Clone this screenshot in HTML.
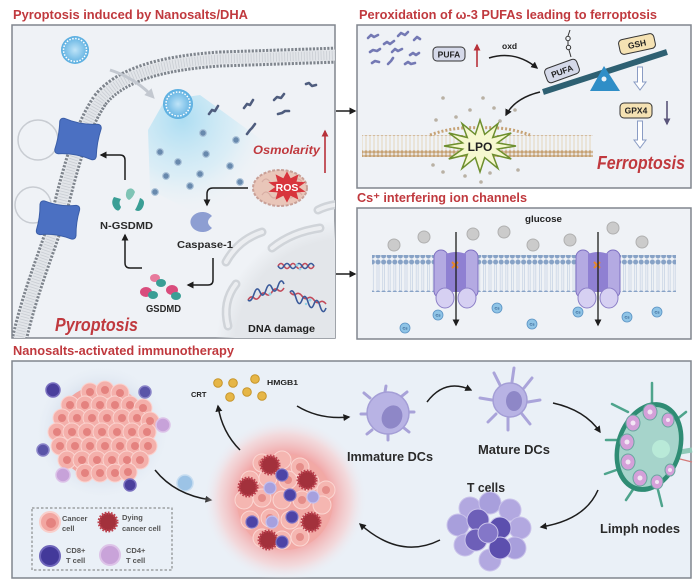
<!DOCTYPE html>
<html><head><meta charset="utf-8">
<style>
html,body{margin:0;padding:0;background:#fff}
svg{display:block}
text{font-family:"Liberation Sans",Arial,sans-serif}
</style></head><body>
<svg width="700" height="584" viewBox="0 0 700 584" xmlns="http://www.w3.org/2000/svg" font-family="Liberation Sans, Arial, sans-serif">
<defs>
  <marker id="a" viewBox="0 0 10 10" refX="8" refY="5" markerWidth="7" markerHeight="7" markerUnits="userSpaceOnUse" orient="auto"><path d="M0,0 L10,5 L0,10 z" fill="#1d1d1d"/></marker>
  <marker id="ar" viewBox="0 0 10 10" refX="8" refY="5" markerWidth="7" markerHeight="7" markerUnits="userSpaceOnUse" orient="auto"><path d="M0,0 L10,5 L0,10 z" fill="#b8323a"/></marker>
  <marker id="ag" viewBox="0 0 10 10" refX="6" refY="5" markerWidth="10" markerHeight="10" markerUnits="userSpaceOnUse" orient="auto"><path d="M0,0 L10,5 L0,10 z" fill="#c3c8d0"/></marker>
  <marker id="ap" viewBox="0 0 10 10" refX="8" refY="5" markerWidth="7" markerHeight="7" markerUnits="userSpaceOnUse" orient="auto"><path d="M0,0 L10,5 L0,10 z" fill="#5a557a"/></marker>
  <radialGradient id="cloud" cx="0.3" cy="0.2" r="0.8">
    <stop offset="0" stop-color="#a9dcf2" stop-opacity="0.95"/>
    <stop offset="0.6" stop-color="#cdeaf6" stop-opacity="0.6"/>
    <stop offset="1" stop-color="#eef3f7" stop-opacity="0"/>
  </radialGradient>
  <radialGradient id="nuc" cx="0.5" cy="0.5" r="0.5">
    <stop offset="0.85" stop-color="#e3e6ea"/>
    <stop offset="1" stop-color="#e3e6ea" stop-opacity="0"/>
  </radialGradient>
  <radialGradient id="glow" cx="0.5" cy="0.5" r="0.5">
    <stop offset="0.55" stop-color="#f1a3a3"/>
    <stop offset="0.8" stop-color="#f6cfd0" stop-opacity="0.7"/>
    <stop offset="1" stop-color="#eaf0f7" stop-opacity="0"/>
  </radialGradient>
  <radialGradient id="haze" cx="0.5" cy="0.5" r="0.5">
    <stop offset="0.6" stop-color="#d3dcea"/>
    <stop offset="1" stop-color="#eaf0f7" stop-opacity="0"/>
  </radialGradient>
  <radialGradient id="ves" cx="0.5" cy="0.5" r="0.5">
    <stop offset="0" stop-color="#bfe4f8"/>
    <stop offset="1" stop-color="#5aaee0"/>
  </radialGradient>
  <pattern id="tan" width="4" height="22" patternUnits="userSpaceOnUse">
    <line x1="2" y1="4" x2="2" y2="18" stroke="#e6d2b4" stroke-width="0.9"/>
    <circle cx="2" cy="2" r="1.8" fill="#c6a274"/>
    <circle cx="2" cy="20" r="1.8" fill="#c6a274"/>
  </pattern>
  <pattern id="blu" width="5.6" height="37" patternUnits="userSpaceOnUse">
    <line x1="1.8" y1="5" x2="1.8" y2="32" stroke="#c9d4e4" stroke-width="0.8"/>
    <line x1="3.8" y1="5" x2="3.8" y2="32" stroke="#c9d4e4" stroke-width="0.8"/>
    <circle cx="2.8" cy="3" r="2.5" fill="#87a2c6"/>
    <circle cx="2.8" cy="34" r="2.5" fill="#87a2c6"/>
  </pattern>
  <clipPath id="c1"><rect x="12" y="25" width="323" height="313"/></clipPath>
  <clipPath id="c2"><rect x="12" y="361" width="679" height="217"/></clipPath>
</defs>

<!-- ===== Titles ===== -->
<text x="13" y="19" font-size="12.5" font-weight="bold" fill="#c0393e" textLength="235" lengthAdjust="spacingAndGlyphs">Pyroptosis induced by Nanosalts/DHA</text>
<text x="359" y="19" font-size="12.5" font-weight="bold" fill="#c0393e" textLength="298" lengthAdjust="spacingAndGlyphs">Peroxidation of ω-3 PUFAs leading to ferroptosis</text>
<text x="357" y="202" font-size="12.5" font-weight="bold" fill="#c0393e" textLength="170" lengthAdjust="spacingAndGlyphs">Cs⁺ interfering ion channels</text>
<text x="13" y="355" font-size="12.5" font-weight="bold" fill="#c0393e" textLength="221" lengthAdjust="spacingAndGlyphs">Nanosalts-activated immunotherapy</text>

<!-- ===== Boxes ===== -->
<rect x="12" y="25" width="323" height="313" fill="#eff2f6" stroke="#80858d" stroke-width="1.5"/>
<rect x="357" y="25" width="334" height="163" fill="#eff2f6" stroke="#80858d" stroke-width="1.5"/>
<rect x="357" y="208" width="334" height="131" fill="#eff2f6" stroke="#80858d" stroke-width="1.5"/>
<rect x="12" y="361" width="679" height="217" fill="#eaf0f7" stroke="#80858d" stroke-width="1.5"/>

<!-- connecting arrows -->
<line x1="336" y1="111" x2="355" y2="111" stroke="#1d1d1d" stroke-width="1.5" marker-end="url(#a)"/>
<line x1="336" y1="274" x2="355" y2="274" stroke="#1d1d1d" stroke-width="1.5" marker-end="url(#a)"/>

<!-- ===== Top-left panel ===== -->
<g clip-path="url(#c1)">
  <circle cx="345" cy="350" r="130" fill="url(#nuc)"/>
  <g fill="none" stroke-linecap="round">
    <path d="M226 262 Q238 240 262 232" stroke="#d0d4d9" stroke-width="9"/>
    <path d="M226 262 Q238 240 262 232" stroke="#eceef1" stroke-width="4"/>
    <path d="M272 248 Q292 232 320 228" stroke="#d0d4d9" stroke-width="9"/>
    <path d="M272 248 Q292 232 320 228" stroke="#eceef1" stroke-width="4"/>
    <path d="M236 284 Q222 302 228 326" stroke="#d0d4d9" stroke-width="9"/>
    <path d="M236 284 Q222 302 228 326" stroke="#eceef1" stroke-width="4"/>
    <path d="M318 210 Q330 204 345 204" stroke="#d0d4d9" stroke-width="9"/>
    <path d="M318 210 Q330 204 345 204" stroke="#eceef1" stroke-width="4"/>
  </g>
  <g fill="none" stroke-width="1.6">
    <path d="M278 266 q3 -5 6 0 t6 0 t6 0 t6 0 t6 0 t6 0" stroke="#c24a5a"/>
    <path d="M278 266 q3 5 6 0 t6 0 t6 0 t6 0 t6 0 t6 0" stroke="#3a5a9a"/>
    <path d="M248 300 q3 -5 6 -2 t6 -2 t6 -2 t6 -2 t6 -2 t6 -2" stroke="#c24a5a"/>
    <path d="M248 300 q3 3 6 -6 t6 -2 t6 -2 t6 -2 t6 -2 t6 -2" stroke="#3a5a9a"/>
    <path d="M290 292 q3 4 6 2 t6 2 t6 2 t6 2 t6 2 t6 2" stroke="#c24a5a"/>
    <path d="M290 292 q3 -4 6 6 t6 2 t6 2 t6 2 t6 2 t6 2" stroke="#3a5a9a"/>
  </g>
  <g fill="#8fd3e8"><circle cx="297" cy="265" r="1.5"/><circle cx="300" cy="269" r="1.3"/><circle cx="270" cy="294" r="1.5"/><circle cx="310" cy="300" r="1.5"/><circle cx="306" cy="304" r="1.2"/></g>

  <path d="M165 100 L200 95 L262 140 L255 205 L200 215 L150 190 L148 130 Z" fill="url(#cloud)"/>

  <circle cx="38" cy="140" r="20" fill="none" stroke="#c8ccd2" stroke-width="1.5"/>
  <circle cx="33" cy="205" r="18" fill="none" stroke="#c8ccd2" stroke-width="1.5"/>

  <path d="M18 345 C30 290 48 250 60 210 C70 170 80 130 100 100 C120 75 160 63 220 59 L340 55" fill="none" stroke="#7f858d" stroke-width="17" stroke-dasharray="2.2 1.4"/>
  <path d="M18 345 C30 290 48 250 60 210 C70 170 80 130 100 100 C120 75 160 63 220 59 L340 55" fill="none" stroke="#e2e5e9" stroke-width="11"/>
  <path d="M18 345 C30 290 48 250 60 210 C70 170 80 130 100 100 C120 75 160 63 220 59 L340 55" fill="none" stroke="#c9cdd3" stroke-width="9" stroke-dasharray="0.8 2"/>

  <!-- channels -->
  <g transform="translate(78,139) rotate(10)">
    <path d="M-17 -18 Q0 -14 17 -18 Q21 -18 21 -14 Q19 0 21 14 Q21 18 17 18 Q0 14 -17 18 Q-21 18 -21 14 Q-19 0 -21 -14 Q-21 -18 -17 -18 Z" fill="#4b70c2" stroke="#3b5ea8" stroke-width="1"/>
  </g>
  <g transform="translate(58,220) rotate(8)">
    <path d="M-16 -17 Q0 -13 16 -17 Q20 -17 20 -13 Q18 0 20 13 Q20 17 16 17 Q0 13 -16 17 Q-20 17 -20 13 Q-18 0 -20 -13 Q-20 -17 -16 -17 Z" fill="#4b70c2" stroke="#3b5ea8" stroke-width="1"/>
  </g>

  <circle cx="75" cy="50" r="14" fill="url(#ves)"/>
  <circle cx="75" cy="50" r="11.5" fill="none" stroke="#fff" stroke-width="1.5" stroke-dasharray="1.5 1.5"/>
  <circle cx="178" cy="104" r="15" fill="url(#ves)"/>
  <circle cx="178" cy="104" r="12" fill="none" stroke="#fff" stroke-width="1.5" stroke-dasharray="1.5 1.5"/>
  <path d="M110 70 Q135 78 152 96" fill="none" stroke="#c3c8d0" stroke-width="3" marker-end="url(#ag)"/>

  <g fill="none" stroke="#4f5d7e" stroke-width="2.6" stroke-linecap="round" stroke-linejoin="round">
    <path d="M209 114 l3 -4 l3 1 l3 -5"/>
    <path d="M244 108 l3 -4 l3 1 l3 -5"/>
    <path d="M274 100 l3 -3 l4 1 l3 -4"/>
    <path d="M306 84 l3 -1 l3 3 l4 -1"/>
    <path d="M278 114 l4 -1 l3 -2 l4 0"/>
    <path d="M247 134 l3 -4 l2 -2 l3 -4"/>
  </g>

  <g fill="#6889ad" stroke="#a7bfd6" stroke-width="1.2">
    <circle cx="203" cy="133" r="3.3"/><circle cx="236" cy="140" r="3.3"/><circle cx="160" cy="152" r="3.3"/>
    <circle cx="206" cy="154" r="3.3"/><circle cx="178" cy="162" r="3.3"/><circle cx="230" cy="166" r="3.3"/>
    <circle cx="200" cy="174" r="3.3"/><circle cx="166" cy="176" r="3.3"/><circle cx="240" cy="182" r="3.3"/>
    <circle cx="190" cy="186" r="3.3"/><circle cx="155" cy="192" r="3.3"/>
  </g>

  <text x="253" y="154" font-size="12" font-weight="bold" font-style="italic" fill="#c0393e" textLength="67" lengthAdjust="spacingAndGlyphs">Osmolarity</text>
  <line x1="325" y1="173" x2="325" y2="131" stroke="#b8323a" stroke-width="1.6" marker-end="url(#ar)"/>

  <ellipse cx="280" cy="188" rx="27" ry="18" fill="#e9c6b9" stroke="#c9a097" stroke-width="2" stroke-dasharray="3 1.5"/>
  <path d="M262 182 q4 -6 8 0 t8 0 t8 0 t8 0 t8 0" fill="none" stroke="#d8aea4" stroke-width="1.2"/>
  <path d="M262 195 q4 -6 8 0 t8 0 t8 0 t8 0 t8 0" fill="none" stroke="#d8aea4" stroke-width="1.2"/>
  <polygon points="287,175 289.8,180.3 295.8,177.3 294.3,182.9 301.3,183.3 296,187 301.3,190.7 294.3,191.1 295.8,196.7 289.8,193.7 287,199 284.2,193.7 278.2,196.7 279.7,191.1 272.7,190.7 278,187 272.7,183.3 279.7,182.9 278.2,177.3 284.2,180.3" transform="translate(287,187) scale(1.3) translate(-287,-187)" fill="#d8343c"/>
  <text x="287" y="191" font-size="10.5" font-weight="bold" fill="#fff" text-anchor="middle">ROS</text>

  <g fill="#3a9e95">
    <path d="M114 197 q-4 6 1 12 q4 4 6 -2 q-3 -4 0 -8 z"/>
    <path d="M127 190 q5 -4 8 2 q-2 6 -6 8 q-5 -3 -2 -10 z" fill="#7fc4b5"/>
    <path d="M140 198 q6 2 3 9 q-3 6 -8 3 q3 -5 5 -12 z"/>
  </g>
  <text x="100" y="229" font-size="10.5" font-weight="bold" fill="#2a2a2a" textLength="53" lengthAdjust="spacingAndGlyphs">N-GSDMD</text>

  <path d="M212 216 A12 10 0 1 0 212 228 Q204 222 212 216 Z" fill="#8d9ed2"/>
  <text x="177" y="248" font-size="10.5" font-weight="bold" fill="#2a2a2a" textLength="56" lengthAdjust="spacingAndGlyphs">Caspase-1</text>

  <g>
    <ellipse cx="155" cy="278" rx="5" ry="4" fill="#e77a9c"/>
    <ellipse cx="161" cy="283" rx="5" ry="4" fill="#3a9e95"/>
    <ellipse cx="146" cy="292" rx="6" ry="5" fill="#d94d7d"/>
    <ellipse cx="153" cy="295" rx="5" ry="4" fill="#3a9e95"/>
    <ellipse cx="172" cy="290" rx="6" ry="5" fill="#d94d7d"/>
    <ellipse cx="176" cy="296" rx="5" ry="4" fill="#3a9e95"/>
  </g>
  <text x="146" y="312" font-size="10" font-weight="bold" fill="#2a2a2a" textLength="35" lengthAdjust="spacingAndGlyphs">GSDMD</text>

  <g fill="none" stroke="#1d1d1d" stroke-width="1.5">
    <path d="M125 180 L125 160 Q125 155 120 155 L101 155" marker-end="url(#a)"/>
    <path d="M248 188 L213 188 Q207 188 207 194 L207 205" marker-end="url(#a)"/>
    <path d="M213 258 L213 280 Q213 285 208 285 L188 285" marker-end="url(#a)"/>
    <path d="M142 268 L130 268 Q125 268 125 263 L125 235" marker-end="url(#a)"/>
  </g>

  <text x="55" y="331" font-size="18" font-weight="bold" font-style="italic" fill="#c0393e" textLength="83" lengthAdjust="spacingAndGlyphs">Pyroptosis</text>
  <text x="248" y="332" font-size="10.5" font-weight="bold" fill="#1f1f1f" textLength="67" lengthAdjust="spacingAndGlyphs">DNA damage</text>
</g>

<!-- ===== Ferroptosis panel ===== -->
<g fill="none" stroke="#7479b4" stroke-width="2.6" stroke-linecap="round" stroke-linejoin="round">
  <path d="M368 38 l3 -3 l3 2 l4 -2"/><path d="M384 44 l3 -2 l3 2 l4 -3"/><path d="M398 36 l3 -3 l4 2 l3 -3"/>
  <path d="M414 40 l3 -3 l3 2"/><path d="M370 52 l3 -2 l4 1 l3 -2"/><path d="M392 52 l3 -3 l3 2 l4 -2"/>
  <path d="M410 55 l3 -2 l3 2 l3 -2"/><path d="M372 63 l3 -2 l4 1"/><path d="M388 64 l3 -3 l2 -3"/>
  <path d="M405 64 l3 -2 l3 2 l4 -1"/>
</g>
<rect x="433" y="47" width="32" height="14" rx="4" fill="#d5d9e9" stroke="#333" stroke-width="1"/>
<text x="449" y="57.5" font-size="8.5" font-weight="bold" fill="#222" text-anchor="middle">PUFA</text>
<line x1="477" y1="67" x2="477" y2="45" stroke="#b8323a" stroke-width="1.6" marker-end="url(#ar)"/>
<text x="502" y="49" font-size="8.5" font-weight="bold" fill="#222">oxd</text>
<path d="M489 58 Q515 50 537 68" fill="none" stroke="#1d1d1d" stroke-width="1.5" marker-end="url(#a)"/>
<line x1="543" y1="92" x2="667" y2="52" stroke="#2e6072" stroke-width="6"/>
<polygon points="604,66 590,91 620,91" fill="#2f8ec7"/>
<circle cx="604" cy="79" r="2.5" fill="#eaf2f8"/>
<g transform="translate(562,71) rotate(-20)">
  <rect x="-17" y="-7.5" width="34" height="15" rx="4" fill="#d5d9e9" stroke="#333" stroke-width="1"/>
  <text x="0" y="3.2" font-size="8.5" font-weight="bold" fill="#222" text-anchor="middle">PUFA</text>
</g>
<g fill="none" stroke="#333" stroke-width="1">
  <path d="M571 57 L569 50"/><circle cx="568.5" cy="47.5" r="2.2"/><path d="M568 45 L568 41"/><circle cx="568" cy="38.5" r="2.2"/><path d="M568 36 L570 30"/>
</g>
<g transform="translate(637,44) rotate(-12)">
  <rect x="-18" y="-7.5" width="36" height="15" rx="4" fill="#f5e2b3" stroke="#333" stroke-width="1"/>
  <text x="0" y="3.2" font-size="8.5" font-weight="bold" fill="#222" text-anchor="middle">GSH</text>
</g>
<path d="M637.5 67 h5 v15 h3.5 l-6 8 l-6 -8 h3.5 z" fill="#fff" stroke="#8a9cc4" stroke-width="1"/>
<rect x="620" y="103" width="32" height="15" rx="4" fill="#f5e2b3" stroke="#333" stroke-width="1"/>
<text x="636" y="113.5" font-size="8.5" font-weight="bold" fill="#222" text-anchor="middle">GPX4</text>
<line x1="667" y1="101" x2="667" y2="124" stroke="#5a557a" stroke-width="1.6" marker-end="url(#ap)"/>
<path d="M637.5 121 h5 v19 h3.5 l-6 8 l-6 -8 h3.5 z" fill="#fff" stroke="#8a9cc4" stroke-width="1"/>
<text x="597" y="169" font-size="18" font-weight="bold" font-style="italic" fill="#c0393e" textLength="88" lengthAdjust="spacingAndGlyphs">Ferroptosis</text>
<rect x="362" y="135" width="231" height="22" fill="url(#tan)"/>
<path d="M430 135 Q455 126 480 128 Q505 126 530 135" fill="none" stroke="#c6a274" stroke-width="3" stroke-dasharray="2 2"/>
<g fill="#b9b1a4">
  <circle cx="443" cy="98" r="1.8"/><circle cx="483" cy="98" r="1.8"/><circle cx="470" cy="110" r="1.8"/>
  <circle cx="494" cy="108" r="1.8"/><circle cx="515" cy="110" r="1.8"/><circle cx="436" cy="120" r="1.8"/>
  <circle cx="500" cy="121" r="1.8"/><circle cx="456" cy="117" r="1.8"/><circle cx="443" cy="172" r="1.8"/>
  <circle cx="465" cy="176" r="1.8"/><circle cx="490" cy="173" r="1.8"/><circle cx="481" cy="182" r="1.8"/>
  <circle cx="518" cy="170" r="1.8"/><circle cx="433" cy="165" r="1.8"/>
</g>
<polygon points="480,120 484.7,134.4 498,123.5 492.7,137.5 511.2,133 497.4,142.9 516,146 497.4,149.1 511.2,159 492.7,154.5 498,168.5 484.7,157.6 480,172 475.3,157.6 462,168.5 467.3,154.5 448.8,159 462.6,149.1 444,146 462.6,142.9 448.8,133 467.3,137.5 462,123.5 475.3,134.4" fill="#f6f8cf" stroke="#6d8f2e" stroke-width="1.5"/>
<text x="480" y="151" font-size="12" font-weight="bold" fill="#222" text-anchor="middle">LPO</text>
<path d="M540 92 Q515 98 506 115" fill="none" stroke="#1d1d1d" stroke-width="1.5" marker-end="url(#a)"/>

<!-- ===== Cs panel ===== -->
<text x="525" y="222" font-size="9" font-weight="bold" fill="#222" textLength="37" lengthAdjust="spacingAndGlyphs">glucose</text>
<g fill="#cbcbcb" stroke="#b0b0b0" stroke-width="1">
  <circle cx="394" cy="245" r="6"/><circle cx="424" cy="237" r="6"/><circle cx="473" cy="234" r="6"/>
  <circle cx="504" cy="232" r="6"/><circle cx="533" cy="245" r="6"/><circle cx="570" cy="240" r="6"/>
  <circle cx="613" cy="228" r="6"/><circle cx="642" cy="242" r="6"/>
</g>
<rect x="372" y="255" width="304" height="37" fill="url(#blu)"/>
<g id="ch">
  <rect x="434" y="250" width="14" height="48" rx="7" fill="#b4aae2" stroke="#7e70c2" stroke-width="1"/>
  <rect x="464" y="250" width="14" height="48" rx="7" fill="#b4aae2" stroke="#7e70c2" stroke-width="1"/>
  <path d="M446 254 Q456 250 466 254 L466 292 L446 292 Z" fill="#8f80d2"/>
  <ellipse cx="445" cy="298" rx="9" ry="10" fill="#d6d0f2" stroke="#8d80c8" stroke-width="1"/>
  <ellipse cx="467" cy="298" rx="9" ry="10" fill="#d6d0f2" stroke="#8d80c8" stroke-width="1"/>
  <path d="M452 262 l6 6 M458 262 l-6 6" stroke="#e8872a" stroke-width="2"/>
</g>
<use href="#ch" transform="translate(142,0)"/>
<line x1="456" y1="232" x2="456" y2="325" stroke="#1d1d1d" stroke-width="1.3" marker-end="url(#a)"/>
<line x1="598" y1="232" x2="598" y2="325" stroke="#1d1d1d" stroke-width="1.3" marker-end="url(#a)"/>
<g>
  <g fill="#8fc4e6" stroke="#5b93c4" stroke-width="0.8">
    <circle cx="438" cy="315" r="5"/><circle cx="405" cy="328" r="5"/><circle cx="497" cy="308" r="5"/>
    <circle cx="532" cy="324" r="5"/><circle cx="578" cy="312" r="5"/><circle cx="627" cy="317" r="5"/><circle cx="657" cy="312" r="5"/>
  </g>
  <g font-size="4" font-weight="bold" fill="#2d5a8a" text-anchor="middle">
    <text x="438" y="316.5">Cs</text><text x="405" y="329.5">Cs</text><text x="497" y="309.5">Cs</text>
    <text x="532" y="325.5">Cs</text><text x="578" y="313.5">Cs</text><text x="627" y="318.5">Cs</text><text x="657" y="313.5">Cs</text>
  </g>
</g>

<!-- ===== Bottom panel ===== -->
<g clip-path="url(#c2)">
  <circle cx="102" cy="432" r="68" fill="url(#haze)"/>
  <circle cx="102" cy="432" r="47" fill="#f2a6a1"/>
  <g fill="#f4b0ab" stroke="#fbd3cf" stroke-width="1">
    <circle cx="90" cy="392" r="9"/><circle cx="105" cy="390" r="9"/><circle cx="120" cy="393" r="9"/>
    <circle cx="70" cy="405" r="9"/><circle cx="85" cy="405" r="9"/><circle cx="100" cy="405" r="9"/><circle cx="115" cy="405" r="9"/><circle cx="130" cy="405" r="9"/><circle cx="143" cy="408" r="9"/>
    <circle cx="62" cy="418" r="9"/><circle cx="77" cy="418" r="9"/><circle cx="92" cy="418" r="9"/><circle cx="107" cy="418" r="9"/><circle cx="122" cy="418" r="9"/><circle cx="137" cy="418" r="9"/><circle cx="150" cy="421" r="9"/>
    <circle cx="57" cy="432" r="9"/><circle cx="72" cy="432" r="9"/><circle cx="87" cy="432" r="9"/><circle cx="102" cy="432" r="9"/><circle cx="117" cy="432" r="9"/><circle cx="132" cy="432" r="9"/><circle cx="147" cy="432" r="9"/>
    <circle cx="60" cy="446" r="9"/><circle cx="75" cy="446" r="9"/><circle cx="90" cy="446" r="9"/><circle cx="105" cy="446" r="9"/><circle cx="120" cy="446" r="9"/><circle cx="135" cy="446" r="9"/><circle cx="148" cy="446" r="9"/>
    <circle cx="67" cy="460" r="9"/><circle cx="82" cy="460" r="9"/><circle cx="97" cy="460" r="9"/><circle cx="112" cy="460" r="9"/><circle cx="127" cy="460" r="9"/><circle cx="140" cy="460" r="9"/>
    <circle cx="85" cy="473" r="9"/><circle cx="100" cy="473" r="9"/><circle cx="115" cy="473" r="9"/><circle cx="128" cy="472" r="9"/>
  </g>
  <g fill="#e4827f">
    <circle cx="90" cy="392" r="4"/><circle cx="105" cy="390" r="4"/><circle cx="120" cy="393" r="4"/>
    <circle cx="70" cy="405" r="4"/><circle cx="85" cy="405" r="4"/><circle cx="100" cy="405" r="4"/><circle cx="115" cy="405" r="4"/><circle cx="130" cy="405" r="4"/><circle cx="143" cy="408" r="4"/>
    <circle cx="62" cy="418" r="4"/><circle cx="77" cy="418" r="4"/><circle cx="92" cy="418" r="4"/><circle cx="107" cy="418" r="4"/><circle cx="122" cy="418" r="4"/><circle cx="137" cy="418" r="4"/><circle cx="150" cy="421" r="4"/>
    <circle cx="57" cy="432" r="4"/><circle cx="72" cy="432" r="4"/><circle cx="87" cy="432" r="4"/><circle cx="102" cy="432" r="4"/><circle cx="117" cy="432" r="4"/><circle cx="132" cy="432" r="4"/><circle cx="147" cy="432" r="4"/>
    <circle cx="60" cy="446" r="4"/><circle cx="75" cy="446" r="4"/><circle cx="90" cy="446" r="4"/><circle cx="105" cy="446" r="4"/><circle cx="120" cy="446" r="4"/><circle cx="135" cy="446" r="4"/><circle cx="148" cy="446" r="4"/>
    <circle cx="67" cy="460" r="4"/><circle cx="82" cy="460" r="4"/><circle cx="97" cy="460" r="4"/><circle cx="112" cy="460" r="4"/><circle cx="127" cy="460" r="4"/><circle cx="140" cy="460" r="4"/>
    <circle cx="85" cy="473" r="4"/><circle cx="100" cy="473" r="4"/><circle cx="115" cy="473" r="4"/><circle cx="128" cy="472" r="4"/>
  </g>
  <g stroke-width="1.5">
    <circle cx="53" cy="390" r="7" fill="#4a3f9c" stroke="#7a70c0"/>
    <circle cx="145" cy="392" r="6" fill="#5a54a8" stroke="#8a84c8"/>
    <circle cx="163" cy="425" r="7" fill="#c7a2d9" stroke="#dcc2e8"/>
    <circle cx="43" cy="450" r="6" fill="#5a54a8" stroke="#8a84c8"/>
    <circle cx="63" cy="475" r="7" fill="#c7a2d9" stroke="#dcc2e8"/>
    <circle cx="130" cy="485" r="6" fill="#4a3f9c" stroke="#7a70c0"/>
    <circle cx="185" cy="483" r="8" fill="#9cc3e6" stroke="#c6dcf0"/>
  </g>
  <path d="M155 470 Q175 495 211 500" fill="none" stroke="#1d1d1d" stroke-width="1.5" marker-end="url(#a)"/>

  <circle cx="285" cy="500" r="82" fill="url(#glow)"/>
  <circle cx="285" cy="502" r="48" fill="#f2a9a5"/>
  <g fill="#f5b6b1" stroke="#fbd6d2" stroke-width="1">
    <circle cx="262" cy="463" r="9"/><circle cx="282" cy="460" r="9"/><circle cx="300" cy="467" r="9"/>
    <circle cx="250" cy="480" r="9"/><circle cx="268" cy="478" r="9"/><circle cx="288" cy="480" r="9"/><circle cx="310" cy="482" r="9"/><circle cx="326" cy="490" r="9"/>
    <circle cx="244" cy="500" r="9"/><circle cx="262" cy="498" r="9"/><circle cx="282" cy="500" r="9"/><circle cx="302" cy="500" r="9"/><circle cx="322" cy="505" r="9"/>
    <circle cx="250" cy="520" r="9"/><circle cx="270" cy="518" r="9"/><circle cx="290" cy="520" r="9"/><circle cx="310" cy="522" r="9"/>
    <circle cx="262" cy="538" r="9"/><circle cx="282" cy="540" r="9"/><circle cx="300" cy="537" r="9"/>
  </g>
  <g fill="#e58d89">
    <circle cx="262" cy="463" r="4"/><circle cx="300" cy="467" r="4"/><circle cx="288" cy="480" r="4"/>
    <circle cx="262" cy="498" r="4"/><circle cx="302" cy="500" r="4"/><circle cx="270" cy="518" r="4"/><circle cx="300" cy="537" r="4"/><circle cx="326" cy="490" r="4"/>
  </g>
  <g fill="#a3313c" stroke="#bd4450" stroke-width="3" stroke-dasharray="1.6 1.4">
    <circle cx="270" cy="465" r="9"/><circle cx="248" cy="487" r="9"/><circle cx="307" cy="480" r="9"/>
    <circle cx="311" cy="522" r="9"/><circle cx="268" cy="540" r="9"/>
  </g>
  <g stroke-width="1.2">
    <circle cx="282" cy="475" r="6" fill="#4d44a6" stroke="#7b72c6"/>
    <circle cx="252" cy="522" r="6" fill="#4d44a6" stroke="#7b72c6"/>
    <circle cx="290" cy="495" r="6" fill="#4d44a6" stroke="#7b72c6"/>
    <circle cx="292" cy="517" r="6" fill="#4d44a6" stroke="#7b72c6"/>
    <circle cx="282" cy="542" r="6" fill="#4d44a6" stroke="#7b72c6"/>
    <circle cx="270" cy="488" r="6" fill="#a6a0de" stroke="#c6c0ee"/>
    <circle cx="313" cy="497" r="6" fill="#a6a0de" stroke="#c6c0ee"/>
    <circle cx="272" cy="522" r="6" fill="#a6a0de" stroke="#c6c0ee"/>
  </g>
</g>

<path d="M240 450 Q222 432 218 406" fill="none" stroke="#1d1d1d" stroke-width="1.5" marker-end="url(#a)"/>
<text x="191" y="397" font-size="7.5" font-weight="bold" fill="#222">CRT</text>
<text x="267" y="385" font-size="7.5" font-weight="bold" fill="#222" textLength="31" lengthAdjust="spacingAndGlyphs">HMGB1</text>
<g fill="#e6b647" stroke="#c7952a" stroke-width="1">
  <circle cx="218" cy="383" r="4.3"/><circle cx="233" cy="383" r="4.3"/><circle cx="255" cy="379" r="4.3"/>
  <circle cx="247" cy="392" r="4.3"/><circle cx="230" cy="397" r="4.3"/><circle cx="262" cy="396" r="4.3"/>
</g>
<path d="M297 406 Q320 420 349 417" fill="none" stroke="#1d1d1d" stroke-width="1.5" marker-end="url(#a)"/>

<!-- legend -->
<rect x="32" y="508" width="140" height="62" fill="none" stroke="#777" stroke-width="1" stroke-dasharray="2.5 2"/>
<circle cx="50" cy="522" r="10" fill="#f2a6a1" stroke="#f9cfcb" stroke-width="2"/>
<circle cx="51" cy="523" r="5" fill="#e4827f"/>
<text x="62" y="521" font-size="7.5" font-weight="bold" fill="#555">Cancer</text>
<text x="62" y="531" font-size="7.5" font-weight="bold" fill="#555">cell</text>
<circle cx="108" cy="522" r="9" fill="#a3313c" stroke="#bd4450" stroke-width="3" stroke-dasharray="1.6 1.4"/>
<text x="122" y="520" font-size="7.5" font-weight="bold" fill="#555">Dying</text>
<text x="122" y="531" font-size="7.5" font-weight="bold" fill="#555">cancer cell</text>
<circle cx="50" cy="556" r="10" fill="#43399a" stroke="#6f66bb" stroke-width="2"/>
<text x="66" y="553" font-size="7.5" font-weight="bold" fill="#555">CD8+</text>
<text x="66" y="563" font-size="7.5" font-weight="bold" fill="#555">T cell</text>
<circle cx="110" cy="555" r="10" fill="#c9a3d9" stroke="#ddc3e8" stroke-width="2"/>
<text x="126" y="553" font-size="7.5" font-weight="bold" fill="#555">CD4+</text>
<text x="126" y="563" font-size="7.5" font-weight="bold" fill="#555">T cell</text>

<!-- Immature DC -->
<g stroke="#a8a2d8" stroke-width="3" stroke-linecap="round">
  <path d="M370 398 l-6 -5 M385 392 l1 -6 M402 396 l5 -4 M408 412 l6 0 M404 428 l5 4 M388 434 l0 6 M372 430 l-5 4 M367 414 l-6 0"/>
</g>
<circle cx="388" cy="413" r="21" fill="#b8b3e4" stroke="#a49ed6" stroke-width="1.5"/>
<ellipse cx="392" cy="417" rx="10" ry="12" transform="rotate(25 392 417)" fill="#8e87c7"/>
<text x="347" y="461" font-size="12.5" font-weight="bold" fill="#2a2a2a" textLength="86" lengthAdjust="spacingAndGlyphs">Immature DCs</text>
<path d="M427 402 Q445 378 471 390" fill="none" stroke="#1d1d1d" stroke-width="1.5" marker-end="url(#a)"/>

<!-- Mature DC -->
<g stroke="#aaa4da" stroke-width="3" stroke-linecap="round" fill="none">
  <path d="M500 385 l-6 -12 M512 382 l2 -14 M524 388 l8 -10 M528 402 l12 -2 M522 414 l8 10 M508 418 l0 12 M496 414 l-8 8 M492 400 l-12 -2"/>
</g>
<circle cx="510" cy="400" r="17" fill="#b8b3e4" stroke="#a49ed6" stroke-width="1.5"/>
<ellipse cx="514" cy="401" rx="8" ry="10" fill="#8e87c7"/>
<text x="478" y="454" font-size="12.5" font-weight="bold" fill="#2a2a2a" textLength="72" lengthAdjust="spacingAndGlyphs">Mature DCs</text>
<path d="M553 403 Q585 410 600 432" fill="none" stroke="#1d1d1d" stroke-width="1.5" marker-end="url(#a)"/>

<!-- Lymph node -->
<g stroke="#4ea48c" stroke-width="2.5" stroke-linecap="round">
  <path d="M652 403 L652 383 M628 412 L612 404 M620 440 L606 440 M622 468 L605 474 M634 488 L626 500 M658 490 L662 506 M676 420 L686 412"/>
</g>
<path d="M680 452 L692 450" stroke="#8fc9b8" stroke-width="5"/>
<path d="M676 458 L692 462" stroke="#d47a7a" stroke-width="1.2"/>
<ellipse cx="649" cy="447" rx="33" ry="46" transform="rotate(18 649 447)" fill="#2f8c74"/>
<ellipse cx="649" cy="447" rx="28.5" ry="41" transform="rotate(18 649 447)" fill="#a6d4cb"/>
<g fill="#d4a0d9" stroke="#6aa7a0" stroke-width="1">
  <ellipse cx="650" cy="412" rx="7" ry="8"/><ellipse cx="668" cy="420" rx="6" ry="7"/>
  <ellipse cx="633" cy="423" rx="7" ry="8"/><ellipse cx="627" cy="442" rx="7" ry="8"/>
  <ellipse cx="628" cy="462" rx="7" ry="8"/><ellipse cx="640" cy="478" rx="7" ry="8"/>
  <ellipse cx="657" cy="482" rx="6" ry="7"/><ellipse cx="670" cy="470" rx="5" ry="6"/>
</g>
<g fill="#f3e6f5">
  <circle cx="650" cy="412" r="2.5"/><circle cx="668" cy="420" r="2"/><circle cx="633" cy="423" r="2.5"/>
  <circle cx="627" cy="442" r="2.5"/><circle cx="628" cy="462" r="2.5"/><circle cx="640" cy="478" r="2.5"/>
  <circle cx="657" cy="482" r="2"/><circle cx="670" cy="470" r="2"/>
</g>
<circle cx="661" cy="449" r="9" fill="#b9ead8"/>
<text x="600" y="533" font-size="12.5" font-weight="bold" fill="#2a2a2a" textLength="80" lengthAdjust="spacingAndGlyphs">Limph nodes</text>
<path d="M598 490 Q585 520 541 527" fill="none" stroke="#1d1d1d" stroke-width="1.5" marker-end="url(#a)"/>

<!-- T cells cluster -->
<text x="467" y="492" font-size="12.5" font-weight="bold" fill="#2a2a2a" textLength="38" lengthAdjust="spacingAndGlyphs">T cells</text>
<g stroke="#c9c2ea" stroke-width="1">
  <circle cx="470" cy="508" r="11" fill="#b2a8e0"/><circle cx="490" cy="503" r="11" fill="#a89fdc"/><circle cx="510" cy="510" r="11" fill="#b2a8e0"/>
  <circle cx="458" cy="525" r="11" fill="#a89fdc"/><circle cx="520" cy="528" r="11" fill="#b2a8e0"/>
  <circle cx="465" cy="545" r="11" fill="#b2a8e0"/><circle cx="515" cy="548" r="11" fill="#a89fdc"/>
  <circle cx="490" cy="560" r="11" fill="#b2a8e0"/>
  <circle cx="478" cy="520" r="11" fill="#6d5fb8"/><circle cx="500" cy="528" r="11" fill="#5c4fae"/>
  <circle cx="476" cy="540" r="11" fill="#6d5fb8"/><circle cx="500" cy="548" r="11" fill="#5c4fae"/>
  <circle cx="488" cy="533" r="10" fill="#8477c8"/>
</g>
<path d="M440 540 Q400 560 360 524" fill="none" stroke="#1d1d1d" stroke-width="1.5" marker-end="url(#a)"/>
</svg>
</body></html>
